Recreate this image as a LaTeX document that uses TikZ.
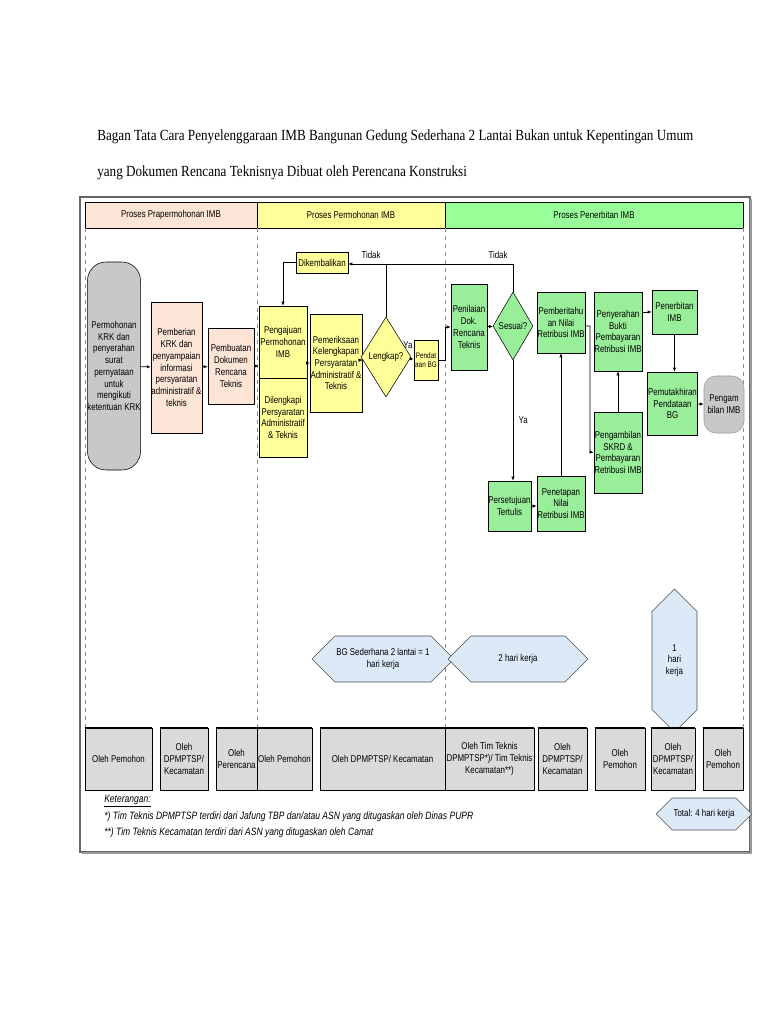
\documentclass[tikz,border=0pt]{standalone}
\usepackage{fontspec}
\setmainfont{Liberation Sans}[FakeStretch=0.8]
\newfontfamily\titlefont{Liberation Serif}[FakeStretch=0.85]
\usetikzlibrary{shapes.geometric,shapes.symbols,arrows.meta}
\definecolor{peach}{HTML}{FCE4D6}
\definecolor{yel}{HTML}{FFFF99}
\definecolor{grn}{HTML}{99EE99}
\definecolor{hgrn}{HTML}{99FF99}
\definecolor{gry}{HTML}{C8C8C8}
\definecolor{bgry}{HTML}{DADADA}
\definecolor{lblue}{HTML}{DCE9F6}
\begin{document}
\begin{tikzpicture}[x=0.75pt,y=-0.75pt,
  fs/.style={font=\fontsize{7.4}{8.8}\selectfont},
  sz/.style n args={2}{minimum width=#1*0.75pt, minimum height=#2*0.75pt},
  pbox/.style={draw, fs, align=center, inner sep=0.3pt, fill=peach},
  ybox/.style={draw, fs, align=center, inner sep=0.3pt, fill=yel},
  gbox/.style={draw, fs, align=center, inner sep=0.3pt, fill=grn},
  dia/.style={draw, diamond, fs, inner sep=0pt, shape aspect=0.6},
  bot/.style={draw, fill=bgry, fs, align=center, inner sep=0.5pt},
  hexa/.style={draw=black!70, fill=lblue, shape=signal, signal to=west and east, fs, align=center, inner sep=1pt},
  arr/.style={-{Latex[length=3pt,width=2.5pt]}, line width=0.5pt},
  ln/.style={line width=0.5pt},
  lab/.style={fs, inner sep=1pt}]
\useasboundingbox (0,0) rectangle (768,1024);
% title
\node[anchor=west, font=\titlefont\fontsize{11.6}{13}\selectfont, inner sep=0] (t1) at (97,137) {Bagan Tata Cara Penyelenggaraan IMB Bangunan Gedung Sederhana 2 Lantai Bukan untuk Kepentingan Umum};
\node[anchor=west, font=\titlefont\fontsize{11.6}{13}\selectfont, inner sep=0] (t2) at (97,173) {yang Dokumen Rencana Teknisnya Dibuat oleh Perencana Konstruksi};
% frame
\draw[black!60, line width=0.8pt] (80,197) rectangle (750,852);
\draw[black!40, line width=1.2pt] (751,199) -- (751,853) -- (82,853);
% headers
\node[draw, fill=peach, fs, sz={172}{26}] (h1) at (171,215) {Proses Prapermohonan IMB};
\node[draw, fill=yel, fs, sz={188}{26}] (h2) at (351,215) {Proses Permohonan IMB};
\node[draw, fill=hgrn, fs, sz={298}{26}] (h3) at (594,215) {Proses Penerbitan IMB};
% dashed lanes
\foreach \xx in {85,257,445,743} \draw[dashed, black!45, line width=0.4pt] (\xx,228) -- (\xx,728);
% nodes
\node[draw, fill=gry, fs, align=center, rounded corners=14pt, sz={52}{208}, inner sep=0pt] (krk) at (114,366) {Permohonan\\KRK dan\\penyerahan\\surat\\pernyataan\\untuk\\mengikuti\\ketentuan KRK};
\node[pbox, sz={49}{131}] (pemb) at (176.5,367.5) {Pemberian\\KRK dan\\penyampaian\\informasi\\persyaratan\\administratif \&\\teknis};
\node[pbox, sz={46}{76}] (pdok) at (231,366) {Pembuatan\\Dokumen\\Rencana\\Teknis};
\node[ybox, sz={48}{72}] (peng) at (283,342) {Pengajuan\\Permohonan\\IMB};
\node[ybox, sz={48}{79}] (dil) at (283,417.5) {Dilengkapi\\Persyaratan\\Administratif\\\& Teknis};
\node[ybox, sz={48}{98}] (pem) at (336,363) {Pemeriksaan\\Kelengkapan\\Persyaratan\\Administratif \&\\Teknis};
\node[dia, fill=yel, sz={50}{80}] (lkp) at (386,357) {Lengkap?};
\node[ybox, sz={24}{40}, font=\fontsize{6}{7}\selectfont] (pdt) at (426,360) {Pendat\\aan BG};
\node[ybox, sz={52}{21}] (kmb) at (322,262.5) {Dikembalikan};
\node[gbox, sz={36}{86}] (pnl) at (469,327) {Penilaian\\Dok.\\Rencana\\Teknis};
\node[dia, fill=grn, sz={40}{68}] (ses) at (513,326) {Sesuai?};
\node[gbox, sz={46}{61}] (ptb) at (561,322.5) {Pemberitahu\\an Nilai\\Retribusi IMB};
\node[gbox, sz={43}{50}] (pst) at (509.5,506) {Persetujuan\\Tertulis};
\node[gbox, sz={46}{55}] (pnt) at (561,503.5) {Penetapan\\Nilai\\Retribusi IMB};
\node[gbox, sz={48}{79}] (pyr) at (618,331.5) {Penyerahan\\Bukti\\Pembayaran\\Retribusi IMB};
\node[gbox, sz={48}{81}] (pgb) at (618,452.5) {Pengambilan\\SKRD \&\\Pembayaran\\Retribusi IMB};
\node[gbox, sz={45}{44}] (pnb) at (674.5,312) {Penerbitan\\IMB};
\node[gbox, sz={49}{63}] (pmt) at (672.5,403.5) {Pemutakhiran\\Pendataan\\BG};
\node[draw=black!40, fill=gry, fs, align=center, rounded corners=9pt, sz={40}{57}, inner sep=0pt] (imb) at (724,404.5) {Pengam\\bilan IMB};
% connectors
\draw[arr] (krk) -- (pemb);
\draw[arr] (pemb) -- (pdok);
\draw[arr] (pdok) -- (peng.west |- pdok);
\draw[arr] (peng.east |- pem) -- (pem);
\draw[arr] (pem) -- (lkp);
\draw[arr] (lkp) -- (pdt);
\node[lab] (ya1) at (408,345) {Ya};
\coordinate (j1) at (445,360);
\coordinate (j2) at (445,327);
\draw[arr] (pdt.east) -- (j1) -- (j2) -- (pnl.west);
\coordinate (t1c) at (386,264);
\draw[arr] (lkp.north) -- (t1c) -- (kmb.east |- t1c);
\node[lab] (tdk1) at (371,255) {Tidak};
\coordinate (k1) at (283,262.5);
\draw[arr] (kmb.west) -- (k1) -- (peng.north);
\coordinate (t2c) at (513,264);
\draw[ln] (ses.north) -- (t2c) -- (t1c);
\node[lab] (tdk2) at (498,255) {Tidak};
\draw[arr] (pnl) -- (ses);
\draw[arr] (ses.south) -- (pst.north -| ses) node[lab, pos=0.5, right=3pt] {Ya};
\draw[arr] (pst) -- (pnt.west |- pst);
\draw[arr] (pnt.north) -- (ptb.south);
\coordinate (r1) at (590,326);
\coordinate (r2) at (590,452);
\draw[arr] (ptb.east |- r1) -- (r1) -- (r2) -- (pgb.west);
\draw[arr] (pgb.north) -- (pyr.south);
\draw[arr] (pyr.east |- pnb) -- (pnb);
\draw[arr] (pnb.south) -- (pmt.north -| pnb);
\draw[arr] (pmt) -- (imb);
% time hexagons
\node[hexa, sz={130}{46}] (hx1) at (383,659) {BG Sederhana 2 lantai = 1\\hari kerja};
\node[hexa, sz={140}{46}] (hx2) at (518,659) {2 hari kerja};
\node[hexa, signal to=north and south, sz={45}{118}] (hx3) at (674.5,660.5) {1\\hari\\kerja};
\node[hexa, sz={82}{32}] (hx4) at (704,814) {Total: 4 hari kerja};
% bottom boxes
\node[bot, sz={67}{62}] (b1) at (118.5,759) {Oleh Pemohon};
\node[bot, sz={48}{62}] (b2) at (184,759) {Oleh\\DPMPTSP/\\Kecamatan};
\node[bot, sz={41}{62}] (b3) at (236.5,759) {Oleh\\Perencana};
\node[bot, sz={55}{62}] (b4) at (284.5,759) {Oleh Pemohon};
\node[bot, sz={125}{62}] (b5) at (382.5,759) {Oleh DPMPTSP/ Kecamatan};
\node[bot, sz={89}{62}] (b6) at (489.5,759) {Oleh Tim Teknis\\DPMPTSP*)/ Tim Teknis\\Kecamatan**)};
\node[bot, sz={49}{62}] (b7) at (562.5,759) {Oleh\\DPMPTSP/\\Kecamatan};
\node[bot, sz={50}{62}] (b8) at (620,759) {Oleh\\Pemohon};
\node[bot, sz={44}{62}] (b9) at (673,759) {Oleh\\DPMPTSP/\\Kecamatan};
\node[bot, sz={40}{62}] (b10) at (723,759) {Oleh\\Pemohon};
\foreach \nm in {b1,b2,b3,b4,b5,b6,b7,b8,b9,b10}
  \draw[line width=1.1pt] (\nm.north west) -- (\nm.north east);
% notes
\node[anchor=west, font=\fontsize{8}{9}\selectfont\itshape, inner sep=0] (k0) at (104,801) {\underline{Keterangan:}};
\node[anchor=west, font=\fontsize{8}{9}\selectfont\itshape, inner sep=0] (k1n) at (104,817) {*) Tim Teknis DPMPTSP terdiri dari Jafung TBP dan/atau ASN yang ditugaskan oleh Dinas PUPR};
\node[anchor=west, font=\fontsize{8}{9}\selectfont\itshape, inner sep=0] (k2n) at (104,833) {**) Tim Teknis Kecamatan terdiri dari ASN yang ditugaskan oleh Camat};
\end{tikzpicture}
\end{document}
